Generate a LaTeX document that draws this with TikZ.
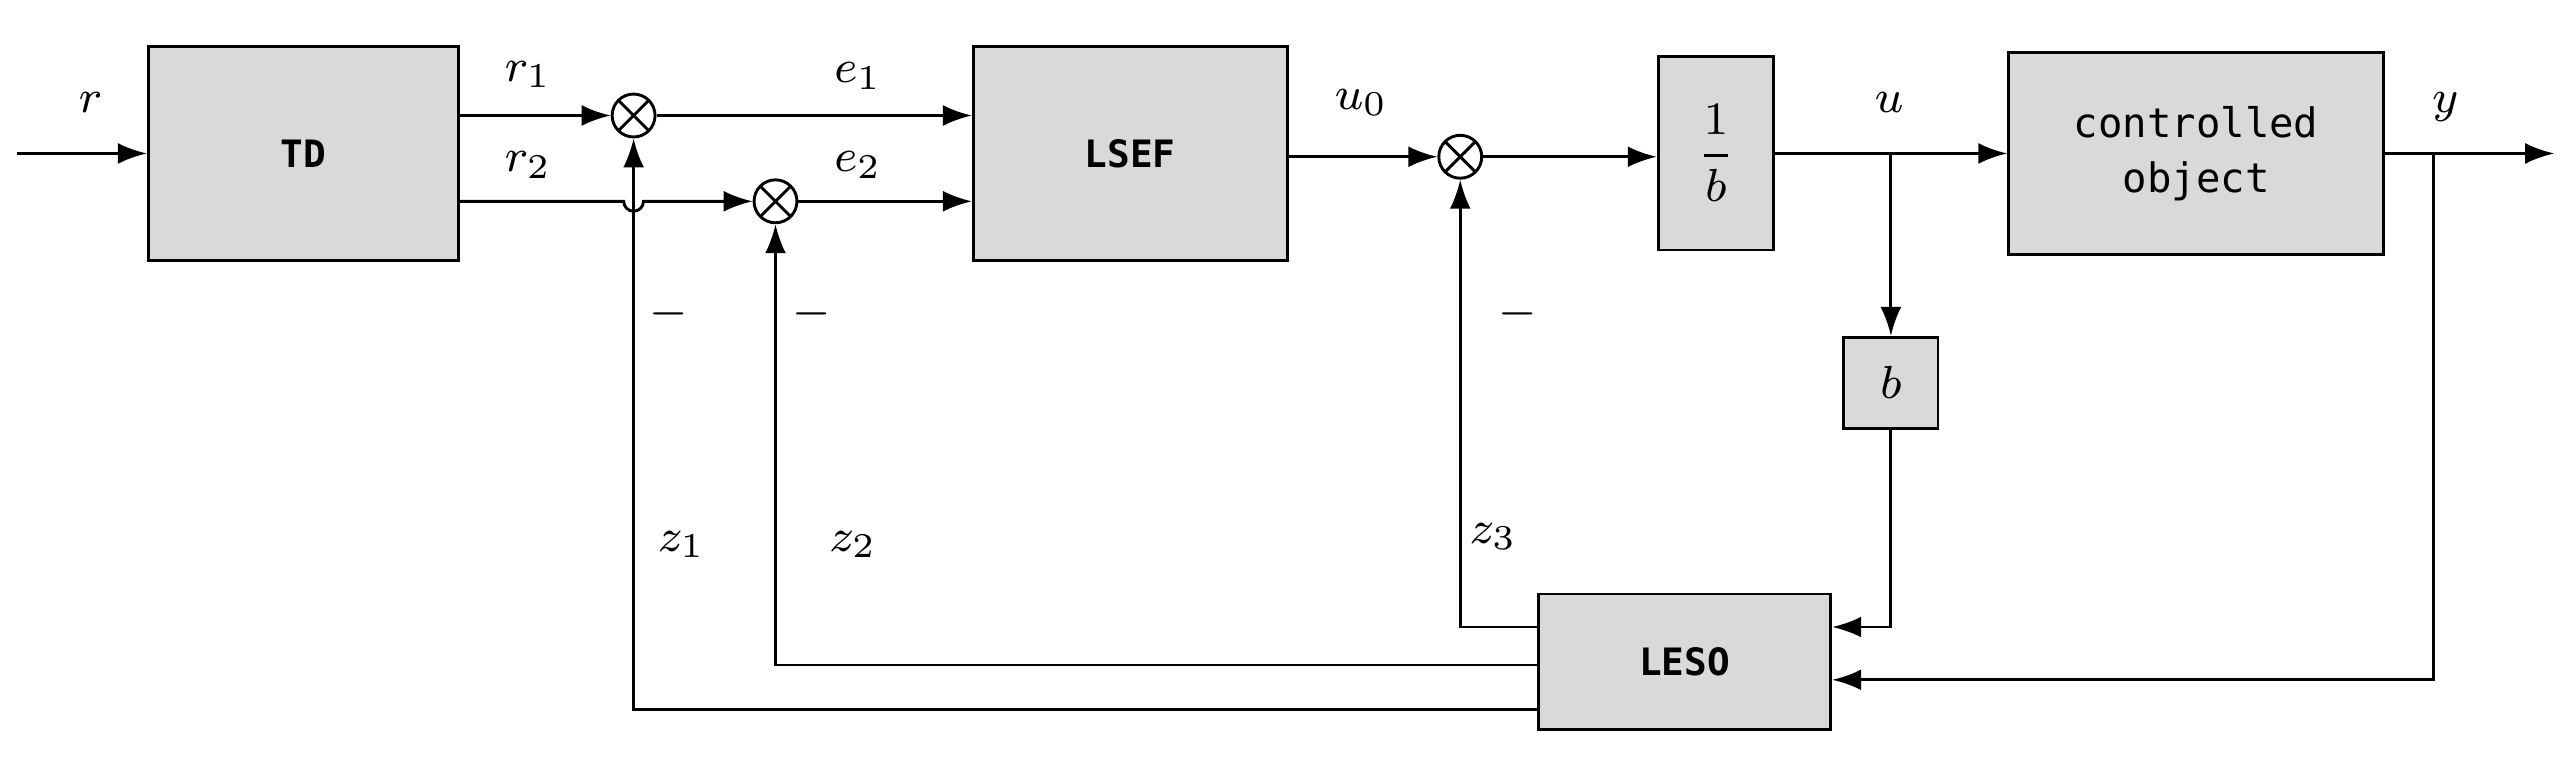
\documentclass[tikz,border=0pt]{standalone}
\usepackage{fontspec}
\setmonofont{DejaVu Sans Mono}
\usetikzlibrary{arrows.meta}
\begin{document}
\begin{tikzpicture}[x=0.01cm,y=-0.01cm,
 blk/.style={draw,fill=black!15,line width=0.5pt,inner sep=0,font=\ttfamily\bfseries\fontsize{6.5}{8}\selectfont},
 sm/.style={draw,circle,minimum size=0.26cm,inner sep=0,line width=0.5pt,
   path picture={\draw (path picture bounding box.north west)--(path picture bounding box.south east)
   (path picture bounding box.north east)--(path picture bounding box.south west);}},
 ar/.style={-{Latex[length=5pt,width=3.6pt]},line width=0.5pt},
 lb/.style={font=\fontsize{8}{9}\selectfont}]
\useasboundingbox (0,0) rectangle (1560,466);
\node[blk,minimum width=1.88cm,minimum height=1.3cm] (td) at (184,93) {TD};
\node[blk,minimum width=1.9cm,minimum height=1.3cm] (lsef) at (685,93) {LSEF};
\node[blk,minimum width=0.7cm,minimum height=1.17cm,font=\fontsize{8}{9}\selectfont] (ib) at (1040,93) {$\displaystyle\frac{1}{b}$};
\node[blk,minimum width=2.27cm,minimum height=1.22cm,font=\ttfamily\fontsize{7}{9.5}\selectfont,align=center] (co) at (1331,93) {controlled\\object};
\node[blk,minimum width=0.57cm,minimum height=0.55cm,font=\fontsize{8}{9}\selectfont] (bb) at (1146,232) {$b$};
\node[blk,minimum width=1.77cm,minimum height=0.82cm] (leso) at (1021,401) {LESO};
\node[sm] (s1) at (384,70) {};
\node[sm] (s2) at (470,122) {};
\node[sm] (s3) at (885,95) {};
\coordinate (in) at (10,93);
\coordinate (out) at (1548,93);
\coordinate (yb) at (1475,93);
\coordinate (ub) at (1146,93);
\draw[ar] (in) -- (td.west);
\draw[ar] (td.east|-s1) -- (s1);
\draw[ar] (td.east|-s2) -- (378,122) arc (180:0:6) -- (s2);
\draw[ar] (s1) -- (lsef.west|-s1);
\draw[ar] (s2) -- (lsef.west|-s2);
\draw[ar] (lsef.east|-s3) -- (s3);
\draw[ar] (s3) -- (ib.west|-s3);
\draw[ar] (ib.east|-co.west) -- (co.west);
\draw[ar] (co.east) -- (out);
\draw[ar] (ub) -- (bb.north);
\draw[ar] (bb.south) |- (leso.east|-0,380);
\draw[ar] (yb) |- (leso.east|-0,412);
\draw[ar] (leso.west|-0,380) -| (s3.south);
\draw[ar] (leso.west|-0,403) -| (s2.south);
\draw[ar] (leso.west|-0,430) -| (s1.south);
\node[lb] at (55,62) {$r$};
\node[lb] at (320,45) {$r_1$};
\node[lb] at (320,100) {$r_2$};
\node[lb] at (520,46) {$e_1$};
\node[lb] at (520,100) {$e_2$};
\node[lb] at (825,62) {$u_0$};
\node[lb] at (1145,62) {$u$};
\node[lb] at (1482,65) {$y$};
\node[lb] at (413,330) {$z_1$};
\node[lb] at (517,330) {$z_2$};
\node[lb] at (905,325) {$z_3$};
\node[lb] at (405,190) {$-$};
\node[lb] at (492,190) {$-$};
\node[lb] at (920,190) {$-$};
\end{tikzpicture}
\end{document}
